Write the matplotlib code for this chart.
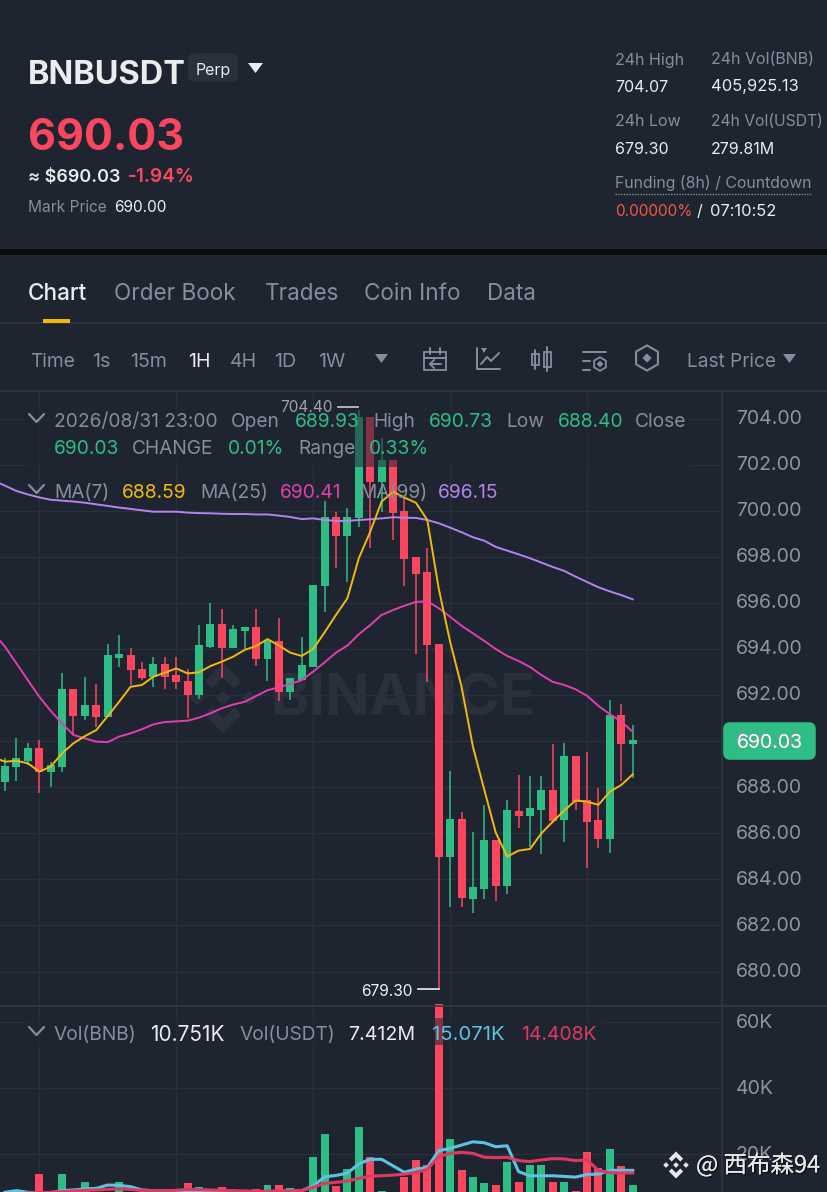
import matplotlib
matplotlib.use("Agg")
import matplotlib.pyplot as plt
from matplotlib.patches import Rectangle, FancyBboxPatch, Polygon
import matplotlib.patheffects as pe
import numpy as np

# ---------- data ----------
opens = [688.17,688.82,689.08,689.62,688.58,688.80,692.18,691.02,691.48,691.00,693.55,693.67,693.08,692.70,
         693.28,692.80,692.56,691.93,694.03,695.00,693.99,694.71,694.89,693.48,694.29,692.08,692.58,693.16,
         696.68,699.67,698.85,699.63,704.01,701.16,702.13,699.90,697.91,697.26,694.15,684.92,686.55,683.10,
         683.51,685.63,683.66,686.90,686.70,686.96,687.82,686.49,689.30,687.36,686.51,685.68,691.07,689.82]
closes = [688.87,689.18,689.62,688.61,688.90,692.18,691.02,691.48,691.00,693.67,693.70,693.02,692.69,693.28,
          692.73,692.48,691.93,694.10,695.00,693.99,694.80,694.89,693.48,694.28,692.08,692.66,693.24,696.73,
          699.67,698.85,699.67,704.01,701.16,702.13,699.83,697.85,697.19,694.10,684.92,686.55,683.11,683.59,
          685.63,683.66,686.93,686.70,687.02,687.81,686.48,689.30,687.30,686.44,685.68,691.05,689.81,689.98]
highs = [689.18,690.05,689.84,689.98,689.01,692.88,692.18,692.70,692.41,694.13,694.54,693.96,693.38,693.60,
         693.60,693.60,693.05,694.97,695.91,695.65,694.97,694.89,695.65,694.35,695.26,692.66,694.46,696.73,
         700.35,699.86,700.03,704.30,704.01,703.07,702.13,700.61,697.91,698.30,694.15,688.65,686.87,685.97,
         687.15,685.63,687.38,688.45,688.40,688.40,689.81,689.84,689.30,689.47,687.91,691.72,691.53,690.63]
lows = [687.78,688.20,688.90,687.67,687.93,688.58,690.24,690.85,690.56,691.00,693.16,692.37,692.58,692.30,
        692.21,692.18,690.92,691.76,693.97,692.66,693.99,693.89,693.20,692.54,691.67,691.72,692.58,693.16,
        695.52,697.46,696.82,699.24,698.30,699.89,698.66,696.68,693.70,692.48,679.23,682.75,682.72,682.46,
        683.08,683.01,683.28,686.15,685.35,685.02,686.37,685.56,686.94,684.44,685.31,685.06,688.21,688.32]
# moving averages start one candle before the first visible candle
ma7 = [689.23,689.04,689.08,688.97,688.61,688.82,689.40,689.84,690.15,690.41,691.02,691.64,692.29,692.37,692.73,
       692.90,693.09,692.87,692.92,693.19,693.38,693.60,693.89,694.06,694.36,694.08,693.77,693.63,693.93,694.65,
       695.41,696.13,697.87,699.02,700.33,700.76,700.50,700.28,699.53,696.56,694.25,692.30,689.69,687.81,685.96,
       684.92,685.18,685.25,685.93,686.44,686.92,687.36,687.30,687.17,687.74,688.03,688.49]
ma25 = [694.61,694.03,693.31,692.58,691.86,691.25,690.70,690.20,690.05,689.91,689.89,690.13,690.27,690.45,690.66,
        690.76,690.79,690.82,690.95,691.14,691.36,691.52,691.64,691.89,692.14,692.27,692.41,692.58,692.95,693.35,
        693.77,694.08,694.57,694.97,695.41,695.62,695.81,695.97,696.01,695.70,695.33,694.94,694.61,694.28,693.93,
        693.63,693.41,693.15,692.80,692.50,692.37,692.18,691.90,691.46,691.10,690.78,690.34]
ma99 = [701.24,701.02,700.79,700.64,700.51,700.41,700.37,700.33,700.28,700.21,700.14,700.07,700.01,699.95,699.89,
        699.89,699.89,699.85,699.83,699.82,699.80,699.79,699.79,699.77,699.77,699.72,699.66,699.57,699.60,699.53,
        699.49,699.49,699.53,699.56,699.60,699.65,699.63,699.62,699.53,699.39,699.20,699.00,698.78,698.63,698.36,
        698.20,698.04,697.87,697.68,697.49,697.32,697.07,696.84,696.61,696.43,696.27,696.09]
volume = [6.5,7.8,7,13.9,6,13.9,7.5,11.6,8,8.4,11.4,7,6,7,9.4,6,11.3,10.1,7,10,6,5,9.4,10.6,10.6,9.7,7,19,26,10.3,
          15.4,28.3,19.2,8.9,8,12.9,18.2,16.7,65.5,24.5,15.2,12.9,11.1,10.6,17.5,11.6,16.7,16.7,11.6,11.6,8.8,20.7,
          15.8,21.4,16.4,10.6]
vol_ma_a = [8.4,8.9,8.4,8.2,8.3,8.9,9.1,9.4,9.6,10.6,10.5,10.1,9.1,8.9,8.8,8.8,8.8,8.9,8.8,8.8,8.7,8.5,8.5,8.6,8.7,
            8.8,8.9,10.3,13.1,13.5,14.2,17,18.4,18.4,16.4,14.45,15.46,15.86,21,21.7,22.7,23.7,23.4,22.2,22.5,14.65,
            13.4,13.4,13.4,13.2,13.0,13.8,13.9,15.05,15.05,15.05]
vol_ma_b = [8.0,8.1,8.2,8.3,8.4,8.6,8.8,9.0,9.1,9.3,9.4,9.3,8.9,8.9,8.9,9,9.3,9.2,9.1,9,8.9,8.8,8.7,8.7,8.8,8.8,8.9,
            9.9,11.1,11.4,11.8,12.6,13.3,13.4,13.6,13.9,14.35,15.36,19.2,20.2,20.5,20.2,19,18.9,19,18,17.7,18.2,18.6,
            18.5,18,18.2,15,14.35,14.25,14.25]
price_ticks = [704,702,700,698,696,694,692,690,688,686,684,682,680]
vol_ticks = [60,40,20]
grid_candles = [3,15,27,39,51]

# ---------- style ----------
BG='#1e2530'; GRID='#2a303b'; SEP='#323844'; GRAY='#848e9c'; WHITE='#eaecef'
GREEN='#2ebd85'; RED='#fb4660'; YEL='#f0b90b'; MAG='#e23fae'; PUR='#b583ee'; BLUE='#5cc4e2'; CRIM='#dd3a63'
plt.rcParams['font.family']=['Inter','DejaVu Sans']
W,H=828,1192
fig=plt.figure(figsize=(W/100,H/100),dpi=100,facecolor=BG)

def axes_px(x0,y0,x1,y1,z):
    a=fig.add_axes([x0/W,1-y1/H,(x1-x0)/W,(y1-y0)/H],zorder=z)
    a.patch.set_alpha(0); a.set_axis_off()
    return a
under=axes_px(0,0,W,H,0); under.set_xlim(0,W); under.set_ylim(H,0)
ui=axes_px(0,0,W,H,3); ui.set_xlim(0,W); ui.set_ylim(H,0)

STEP=11.413; X0=5.0
def xlim_for(x0,x1): return ((x0-X0)/STEP,(x1-X0)/STEP)
ax=axes_px(0,392,722,1005,1)
ax.set_xlim(*xlim_for(0,722)); ax.set_ylim(704-(1005-417)/23.04,704+(417-392)/23.04)
vx=axes_px(0,1003,722,1192,1)
vx.set_xlim(*xlim_for(0,722)); vx.set_ylim(20-(1192-1154)/3.3,20+(1154-1003)/3.3)

# ---------- grid ----------
for p in price_ticks:
    ax.axhline(p-0.07,color=GRID,lw=1,zorder=1)
for v in vol_ticks:
    vx.axhline(v,color=GRID,lw=1,zorder=1)
for c in grid_candles:
    ax.axvline(c,color=GRID,lw=1,zorder=1); vx.axvline(c,color=GRID,lw=1,zorder=1)

# ---------- candles ----------
idx=np.arange(len(opens))
o,c,h,l=map(np.array,(opens,closes,highs,lows))
cols=[GREEN if b>=a else RED for a,b in zip(o,c)]
ax.vlines(idx,l,h,colors=cols,lw=1.1,zorder=3)
ax.bar(idx,np.abs(c-o),bottom=np.minimum(o,c),width=0.7,color=cols,zorder=3,linewidth=0)
mx=np.arange(-1,len(opens))
ax.plot(mx,ma99,color=PUR,lw=1.4,zorder=4)
ax.plot(mx,ma25,color=MAG,lw=1.4,zorder=4)
ax.plot(mx,ma7,color=YEL,lw=1.4,zorder=5)

# ---------- volume ----------
vx.bar(idx,volume,width=0.7,color=cols,zorder=3,linewidth=0)
vx.plot(idx,vol_ma_a,color=BLUE,lw=2.2,zorder=4)
vx.plot(idx,vol_ma_b,color=CRIM,lw=2.2,zorder=5)

# ---------- helpers ----------
def T(x,y,s,px,color=GRAY,ha='left',weight='normal',**k):
    return ui.text(x,y+2,s,fontsize=px*0.72,color=color,ha=ha,va='center',fontweight=weight,zorder=10,**k)
def logo(a,cx,cy,r,color,alpha=1,z=2):
    top=[(0,-1),(.53,-.47),(.32,-.26),(0,-.58),(-.32,-.26),(-.53,-.47)]
    bot=[(x,-y) for x,y in top]
    def dm(px,py,q): return [(px,py-q),(px+q,py),(px,py+q),(px-q,py)]
    for shape in (top,bot,dm(0,0,.21),dm(-.74,0,.21),dm(.74,0,.21)):
        a.add_patch(Polygon([(cx+r*x,cy+r*y) for x,y in shape],closed=True,fc=color,ec='none',alpha=alpha,zorder=z))
def tri(x0,x1,y0,y1,color):
    ui.add_patch(Polygon([(x0,y0),(x1,y0),((x0+x1)/2,y1)],closed=True,fc=color,ec='none',zorder=10))
def L(xs,ys,color=GRAY,lw=1.4):
    ui.plot(xs,ys,color=color,lw=lw,zorder=10,solid_capstyle='round')

# watermark below the candles
logo(under,223,698,35,'#2b313c')
under.text(403,701,'BINANCE',fontsize=41.8,color='#2b313c',ha='center',va='center',fontweight='bold',zorder=2)

# bands and separators
ui.add_patch(Rectangle((0,249),W,6,fc='#090b0e',ec='none',zorder=1))
for yy in (323,391,1005.5):
    ui.plot([0,W],[yy,yy],color=SEP,lw=1.2,zorder=2)
ui.plot([722,722],[392,H],color=SEP,lw=1.2,zorder=2)

# translucent legend backgrounds
ui.add_patch(Rectangle((25,405),665,62,fc=BG,ec='none',alpha=0.55,zorder=3))
ui.add_patch(Rectangle((25,1018),580,27,fc=BG,ec='none',alpha=0.55,zorder=3))

# ---------- header ----------
T(28,73,'BNBUSDT',32.5,'#eaecef',weight='bold')
ui.add_patch(FancyBboxPatch((191,56),44,23,boxstyle='round,pad=0,rounding_size=3',mutation_aspect=1,fc='#2a303c',ec='#2a303c',lw=4,zorder=5))
T(213,68,'Perp',16,WHITE,ha='center')
tri(248,263,63,73,WHITE)
T(28,136,'690.03',43,RED,weight='bold')
T(28,175,'≈ $690.03',18,WHITE,weight='semibold')
T(128,175,'-1.94%',19,RED,weight='semibold')
T(28,205,'Mark Price',15.5,GRAY)
T(114,205,'690.00',15.5,WHITE)
T(615,58,'24h High',16); T(711,58,'24h Vol(BNB)',16)
T(615,85,'704.07',16,WHITE); T(711,85,'405,925.13',16.5,WHITE)
T(615,120,'24h Low',16); T(711,120,'24h Vol(USDT)',15.7)
T(615,147,'679.30',16,WHITE); T(711,147,'279.81M',16,WHITE)
T(615,181,'Funding (8h) / Countdown',15.8)
ui.plot([615,812],[194,194],color=GRAY,lw=1,ls=(0,(1,1)),zorder=10)
T(615,210,'0.00000%',15.3,'#f6563f'); T(697,210,'/',16,WHITE); T(710,210,'07:10:52',16.5,WHITE)

# ---------- tabs ----------
T(28,292,'Chart',22.5,WHITE,weight='medium')
for x,s in ((114,'Order Book'),(265,'Trades'),(364,'Coin Info'),(487,'Data')):
    T(x,292,s,22.5,GRAY)
ui.add_patch(Rectangle((43,319),27,4,fc=YEL,ec='none',zorder=6))

# ---------- toolbar ----------
T(30,360,'Time',19.2)
for x,s,col in ((92,'1s',GRAY),(130,'15m',GRAY),(188,'1H',WHITE),(230,'4H',GRAY),(274,'1D',GRAY),(318,'1W',GRAY)):
    T(x,360,s,19.5,col)
tri(375,388,354,363,GRAY)
# calendar icon
ui.add_patch(Rectangle((424,352),22,18,fc='none',ec=GRAY,lw=1.3,zorder=10))
L([424,446],[358,358]); L([430,430],[348,354]); L([440,440],[348,354])
L([430,441],[364,364]); L([430,434,],[364,360]); L([430,434],[364,368])
# chart icon
L([477,477,500],[348,369,369]); L([481,487,491,499],[364,357,361,353])
tri(481,487,348,353,GRAY)
# candles icon
ui.add_patch(Rectangle((532,354),7,11,fc='none',ec=GRAY,lw=1.3,zorder=10))
ui.add_patch(Rectangle((544,352),7,15,fc='none',ec=GRAY,lw=1.3,zorder=10))
L([535.5,535.5],[350,369]); L([547.5,547.5],[347,371])
# indicator icon
L([583,606],[352,352]); L([583,590],[361,361]); L([583,590],[370,370])
ui.scatter([600],[364],s=95,fc='none',ec=GRAY,marker='h',lw=1.3,zorder=10)
ui.scatter([600],[364],s=12,fc=GRAY,ec='none',marker='D',zorder=10)
# hexagon icon
ui.scatter([647],[358],s=330,fc='none',ec=GRAY,marker='h',lw=1.5,zorder=10)
ui.scatter([647],[358],s=22,fc=GRAY,ec='none',marker='D',zorder=10)
T(687,360,'Last Price',19)
tri(783,796,354,363,GRAY)

# ---------- chart legend ----------
def chevron(cy):
    L([29,36.5,44],[cy-5,cy+3,cy-5],GRAY,1.6)
chevron(419)
T(54,420,'2026/08/31 23:00',19.2); T(231,420,'Open',19.2); T(295,420,'689.93',19.2,GREEN)
T(373,420,'High',19.2); T(429,420,'690.73',19.2,GREEN); T(506,420,'Low',19.2)
T(558,420,'688.40',19.2,GREEN); T(635,420,'Close',19.2)
T(54,447,'690.03',19.2,GREEN); T(132,447,'CHANGE',19.2); T(228,447,'0.01%',19.2,GREEN)
T(298,447,'Range',19.2); T(369,447,'0.33%',19.2,GREEN)
chevron(490)
T(54,491,'MA(7)',19.2); T(122,491,'688.59',19.2,YEL); T(200,491,'MA(25)',19.2)
T(280,491,'690.41',19.2,MAG); T(359,491,'MA(99)',19.2); T(438,491,'696.15',19.2,PUR)

# extreme labels
T(333,406,'704.40',15.5,'#9aa1ac',ha='right'); ui.plot([338,358],[407,407],color='#b8bcc4',lw=1.3,zorder=10)
T(413,989,'679.30',15.5,'#f0f0f0',ha='right'); ui.plot([418,439],[989,989],color='#e0e0e0',lw=1.3,zorder=10)

# price axis labels
for p in price_ticks:
    T(736,417+(704-p)*23.04,f'{p:.2f}',19.5,'#8d95a2')
ui.add_patch(FancyBboxPatch((726,725),87,32,boxstyle='round,pad=0,rounding_size=4',fc=GREEN,ec=GREEN,lw=4,zorder=9))
T(770,741,'690.03',19.5,'white',ha='center')

# ---------- volume legend / axis ----------
chevron(1032)
T(54,1033,'Vol(BNB)',19.2); T(150,1033,'10.751K',20.8,WHITE); T(240,1033,'Vol(USDT)',19.2)
T(348,1033,'7.412M',19.6,WHITE); T(432,1033,'15.071K',20.3,BLUE); T(521,1033,'14.408K',19.4,CRIM)
for v,yy in zip(vol_ticks,(1021,1087,1153)):
    T(736,yy,f'{v}K',19.5,'#8d95a2')

# ---------- post watermark ----------
logo(ui,676,1165,13.5,'#e8e8e8',z=12)
t=ui.text(696,1165,'@ 西布森94',fontsize=23.5*0.72,color='#e8e8e8',ha='left',va='center',zorder=12,
          family=['Noto Sans CJK SC','DejaVu Sans'])
t.set_path_effects([pe.withSimplePatchShadow(offset=(1,-1),shadow_rgbFace='black',alpha=0.6),pe.Normal()])

fig.savefig('out.png',dpi=100,facecolor=BG)
